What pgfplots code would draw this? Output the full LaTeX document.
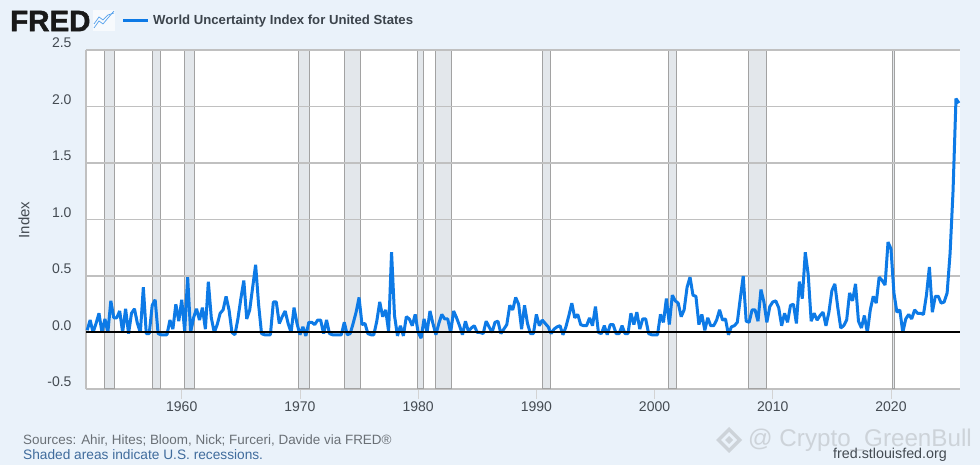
\documentclass[border=0pt]{standalone}
\usepackage{pgfplots}
\usepackage{fontspec}
\pgfplotsset{compat=1.18}
\setmainfont{Liberation Sans}
\newfontfamily\fredfont[FakeBold=1.6]{Liberation Sans Bold}
\definecolor{pagebg}{HTML}{EAF2FA}
\definecolor{recess}{HTML}{E3E7EB}
\definecolor{recessedge}{HTML}{A2A2A2}
\definecolor{gridc}{HTML}{C0C0C0}
\definecolor{series}{HTML}{0D7AE6}
\definecolor{ticktext}{HTML}{444B52}
\definecolor{srctext}{HTML}{6A7076}
\definecolor{shadetext}{HTML}{3F6B9C}
\definecolor{legtext}{HTML}{3C444C}
\definecolor{wmark}{HTML}{CDD3D9}

\pgfplotsset{
  recbar/.style={fill=recess, draw=recessedge, line width=1pt, forget plot},
  hgrid/.style={gridc, line width=1.8pt, forget plot},
}

\begin{document}
\begin{tikzpicture}[x=1pt,y=1pt]
\useasboundingbox (0,0) rectangle (980,465);
\fill[pagebg] (0,0) rectangle (980,465);

\begin{axis}[
  at={(86pt,76pt)}, anchor=south west,
  scale only axis, width=874pt, height=339pt,
  xmin=1951.90, xmax=2025.84,
  ymin=-0.5, ymax=2.5,
  xtick={1960,1970,1980,1990,2000,2010,2020},
  ytick={-0.5,0,0.5,1,1.5,2,2.5},
  axis y line*=left, axis x line*=bottom,
  axis line style={gridc, line width=1.4pt, -},
  axis background/.style={fill=white},
  clip=false,
  x tick label style={font=\fontsize{14}{16}\selectfont, text=ticktext, yshift=1pt,
    /pgf/number format/.cd, 1000 sep={}, assume math mode=true},
  y tick label style={font=\fontsize{14}{16}\selectfont, text=ticktext, yshift=7pt, xshift=-1pt,
    /pgf/number format/.cd, fixed, fixed zerofill, precision=1, assume math mode=true},
  tick align=outside,
  xtick style={gridc!70, line width=0.8pt},
  major tick length=10pt,
  ytick style={draw=none},
]
% recessions
\addplot[recbar] coordinates {(1953.47,-0.5)(1954.31,-0.5)(1954.31,2.5)(1953.47,2.5)} -- cycle;
\addplot[recbar] coordinates {(1957.51,-0.5)(1958.19,-0.5)(1958.19,2.5)(1957.51,2.5)} -- cycle;
\addplot[recbar] coordinates {(1960.22,-0.5)(1961.07,-0.5)(1961.07,2.5)(1960.22,2.5)} -- cycle;
\addplot[recbar] coordinates {(1969.86,-0.5)(1970.80,-0.5)(1970.80,2.5)(1969.86,2.5)} -- cycle;
\addplot[recbar] coordinates {(1973.76,-0.5)(1975.11,-0.5)(1975.11,2.5)(1973.76,2.5)} -- cycle;
\addplot[recbar] coordinates {(1979.93,-0.5)(1980.44,-0.5)(1980.44,2.5)(1979.93,2.5)} -- cycle;
\addplot[recbar] coordinates {(1981.46,-0.5)(1982.81,-0.5)(1982.81,2.5)(1981.46,2.5)} -- cycle;
\addplot[recbar] coordinates {(1990.51,-0.5)(1991.19,-0.5)(1991.19,2.5)(1990.51,2.5)} -- cycle;
\addplot[recbar] coordinates {(2001.17,-0.5)(2001.84,-0.5)(2001.84,2.5)(2001.17,2.5)} -- cycle;
\addplot[recbar] coordinates {(2007.93,-0.5)(2009.46,-0.5)(2009.46,2.5)(2007.93,2.5)} -- cycle;
\addplot[recbar] coordinates {(2020.12,-0.5)(2020.32,-0.5)(2020.32,2.5)(2020.12,2.5)} -- cycle;
% grid lines sit over the shading
\addplot[hgrid] coordinates {(1951.90,0.5)(2025.84,0.5)};
\addplot[hgrid] coordinates {(1951.90,1)(2025.84,1)};
\addplot[hgrid] coordinates {(1951.90,1.5)(2025.84,1.5)};
\addplot[hgrid] coordinates {(1951.90,2)(2025.84,2)};
\addplot[hgrid] coordinates {(1951.90,2.5)(2025.84,2.5)};
% series, quarterly
\addplot[series, line width=3pt, line join=bevel] coordinates {
(1952.00,0.02)(1952.25,0.11)(1952.50,0.00)(1952.75,0.08)
(1953.00,0.17)(1953.25,0.00)(1953.50,0.12)(1953.75,0.00)
(1954.00,0.28)(1954.25,0.13)(1954.50,0.13)(1954.75,0.19)
(1955.00,0.00)(1955.25,0.21)(1955.50,-0.01)(1955.75,0.17)
(1956.00,0.21)(1956.25,0.08)(1956.50,0.00)(1956.75,0.40)
(1957.00,-0.01)(1957.25,-0.01)(1957.50,0.24)(1957.75,0.29)
(1958.00,-0.01)(1958.25,-0.02)(1958.50,-0.02)(1958.75,-0.02)
(1959.00,0.11)(1959.25,0.03)(1959.50,0.25)(1959.75,0.10)
(1960.00,0.29)(1960.25,0.01)(1960.50,0.49)(1960.75,0.00)
(1961.00,0.13)(1961.25,0.21)(1961.50,0.11)(1961.75,0.22)
(1962.00,0.03)(1962.25,0.45)(1962.50,0.13)(1962.75,0.00)
(1963.00,0.07)(1963.25,0.17)(1963.50,0.20)(1963.75,0.32)
(1964.00,0.20)(1964.25,0.00)(1964.50,-0.02)(1964.75,0.12)
(1965.00,0.30)(1965.25,0.46)(1965.50,0.12)(1965.75,0.20)
(1966.00,0.40)(1966.25,0.60)(1966.50,0.25)(1966.75,-0.01)
(1967.00,-0.02)(1967.25,-0.02)(1967.50,-0.02)(1967.75,0.27)
(1968.00,0.27)(1968.25,0.08)(1968.50,0.14)(1968.75,0.19)
(1969.00,0.08)(1969.25,0.00)(1969.50,0.22)(1969.75,0.08)
(1970.00,-0.02)(1970.25,0.05)(1970.50,-0.03)(1970.75,0.09)
(1971.00,0.09)(1971.25,0.07)(1971.50,0.11)(1971.75,0.11)
(1972.00,-0.01)(1972.25,0.11)(1972.50,-0.01)(1972.75,-0.02)
(1973.00,-0.02)(1973.25,-0.02)(1973.50,-0.02)(1973.75,0.09)
(1974.00,-0.02)(1974.25,-0.01)(1974.50,0.08)(1974.75,0.18)
(1975.00,0.31)(1975.25,0.07)(1975.50,0.08)(1975.75,-0.01)
(1976.00,-0.02)(1976.25,-0.02)(1976.50,0.10)(1976.75,0.27)
(1977.00,0.14)(1977.25,0.20)(1977.50,0.01)(1977.75,0.71)
(1978.00,0.15)(1978.25,-0.03)(1978.50,0.06)(1978.75,-0.03)
(1979.00,0.14)(1979.25,0.12)(1979.50,0.06)(1979.75,0.16)
(1980.00,0.00)(1980.25,-0.05)(1980.50,0.12)(1980.75,0.00)
(1981.00,0.19)(1981.25,0.08)(1981.50,-0.02)(1981.75,0.08)
(1982.00,0.16)(1982.25,0.12)(1982.50,0.12)(1982.75,0.00)
(1983.00,0.19)(1983.25,0.13)(1983.50,0.06)(1983.75,-0.02)
(1984.00,0.10)(1984.25,0.01)(1984.50,0.04)(1984.75,0.06)
(1985.00,0.00)(1985.25,0.00)(1985.50,-0.01)(1985.75,0.10)
(1986.00,0.05)(1986.25,0.00)(1986.50,0.09)(1986.75,0.10)
(1987.00,-0.01)(1987.25,0.03)(1987.50,0.07)(1987.75,0.24)
(1988.00,0.20)(1988.25,0.31)(1988.50,0.25)(1988.75,0.03)
(1989.00,0.24)(1989.25,0.08)(1989.50,-0.01)(1989.75,-0.01)
(1990.00,0.16)(1990.25,0.06)(1990.50,0.11)(1990.75,0.08)
(1991.00,0.05)(1991.25,-0.01)(1991.50,0.03)(1991.75,0.05)
(1992.00,0.06)(1992.25,-0.02)(1992.50,0.05)(1992.75,0.15)
(1993.00,0.26)(1993.25,0.13)(1993.50,0.16)(1993.75,0.07)
(1994.00,0.06)(1994.25,0.06)(1994.50,0.13)(1994.75,0.06)
(1995.00,0.23)(1995.25,0.00)(1995.50,-0.01)(1995.75,0.06)
(1996.00,-0.02)(1996.25,0.07)(1996.50,0.07)(1996.75,-0.01)
(1997.00,-0.01)(1997.25,0.06)(1997.50,-0.01)(1997.75,-0.01)
(1998.00,0.17)(1998.25,0.07)(1998.50,0.18)(1998.75,0.03)
(1999.00,0.12)(1999.25,0.12)(1999.50,-0.01)(1999.75,-0.02)
(2000.00,-0.02)(2000.25,-0.02)(2000.50,0.16)(2000.75,0.09)
(2001.00,0.30)(2001.25,0.07)(2001.50,0.33)(2001.75,0.28)
(2002.00,0.26)(2002.25,0.14)(2002.50,0.20)(2002.75,0.40)
(2003.00,0.49)(2003.25,0.33)(2003.50,0.32)(2003.75,0.07)
(2004.00,0.16)(2004.25,0.02)(2004.50,0.13)(2004.75,0.06)
(2005.00,0.06)(2005.25,0.11)(2005.50,0.20)(2005.75,0.11)
(2006.00,0.12)(2006.25,-0.02)(2006.50,0.05)(2006.75,0.06)
(2007.00,0.09)(2007.25,0.30)(2007.50,0.50)(2007.75,0.10)
(2008.00,0.09)(2008.25,0.20)(2008.50,0.20)(2008.75,0.10)
(2009.00,0.38)(2009.25,0.27)(2009.50,0.09)(2009.75,0.23)
(2010.00,0.27)(2010.25,0.28)(2010.50,0.22)(2010.75,0.06)
(2011.00,0.17)(2011.25,0.09)(2011.50,0.24)(2011.75,0.25)
(2012.00,0.08)(2012.25,0.45)(2012.50,0.30)(2012.75,0.71)
(2013.00,0.51)(2013.25,0.10)(2013.50,0.17)(2013.75,0.11)
(2014.00,0.15)(2014.25,0.18)(2014.50,0.06)(2014.75,0.18)
(2015.00,0.37)(2015.25,0.43)(2015.50,0.22)(2015.75,0.04)
(2016.00,0.06)(2016.25,0.11)(2016.50,0.35)(2016.75,0.28)
(2017.00,0.43)(2017.25,0.10)(2017.50,0.04)(2017.75,0.15)
(2018.00,0.00)(2018.25,0.20)(2018.50,0.32)(2018.75,0.26)
(2019.00,0.49)(2019.25,0.46)(2019.50,0.42)(2019.75,0.80)
(2020.00,0.74)(2020.25,0.35)(2020.50,0.18)(2020.75,0.20)
(2021.00,0.00)(2021.25,0.12)(2021.50,0.16)(2021.75,0.12)
(2022.00,0.20)(2022.25,0.17)(2022.50,0.17)(2022.75,0.16)
(2023.00,0.33)(2023.25,0.58)(2023.50,0.18)(2023.75,0.32)
(2024.00,0.32)(2024.25,0.26)(2024.50,0.27)(2024.75,0.35)
(2025.00,0.70)(2025.25,1.25)(2025.50,2.07)(2025.75,2.03)
};
\addplot[black, line width=2pt, forget plot] coordinates {(1951.90,0)(2025.84,0)};
\end{axis}

% y label
\node[rotate=90, text=ticktext, font=\fontsize{15}{17}\selectfont] at (24,245) {Index};

% FRED logo and graph icon
\node[anchor=west, inner sep=0, font=\fredfont\fontsize{29.5}{32}\selectfont, text=black!90] at (10,444) {FRED};
\fill[white!60!pagebg] (93,434) rectangle (115,455);
\draw[series!70!white, line width=0.7pt] (94,437) -- (99,444) -- (103,441) -- (108,447) -- (114,454);
\draw[series!70!white, line width=0.7pt] (94,441) -- (99,448) -- (103,445) -- (108,450) -- (114,452);

% legend
\draw[series, line width=3pt] (123,444) -- (148,444);
\node[anchor=west, inner sep=0, font=\fontsize{13.15}{15}\bfseries\selectfont, text=legtext] at (153,444) {World Uncertainty Index for United States};

% watermark
\begin{scope}[shift={(729,25)}]
\fill[wmark] (0,-13) -- (13,0) -- (0,13) -- (-13,0) -- cycle;
\fill[pagebg] (0,-8) -- (8,0) -- (0,8) -- (-8,0) -- cycle;
\fill[wmark] (0,-4) -- (4,0) -- (0,4) -- (-4,0) -- cycle;
\end{scope}
\node[anchor=west, inner sep=0, font=\fontsize{24.2}{27}\selectfont, text=wmark] at (748,25) {@ Crypto\_GreenBull};

% footer
\node[anchor=west, inner sep=0, font=\fontsize{13.45}{16}\selectfont, text=srctext] at (23,25) {Sources: Ahir, Hites; Bloom, Nick; Furceri, Davide via FRED®};
\node[anchor=west, inner sep=0, font=\fontsize{13.7}{16}\selectfont, text=shadetext] at (23,10) {Shaded areas indicate U.S. recessions.};
\node[anchor=east, inner sep=0, font=\fontsize{14.3}{16}\selectfont, text=ticktext] at (947,10) {fred.stlouisfed.org};
\end{tikzpicture}
\end{document}
